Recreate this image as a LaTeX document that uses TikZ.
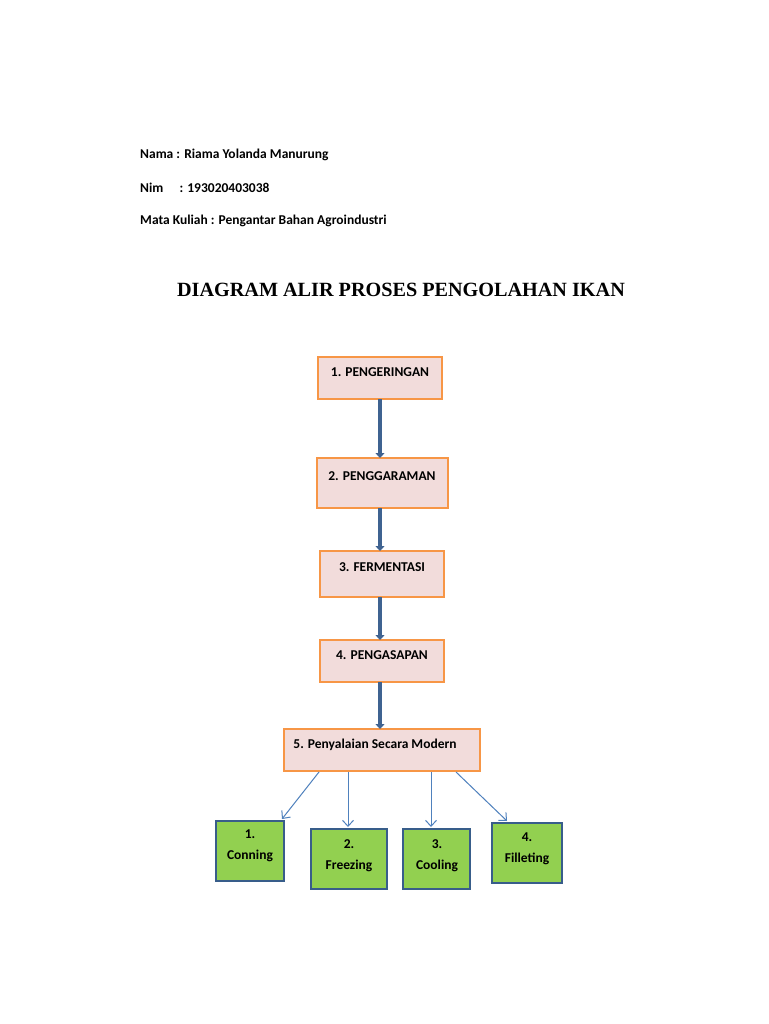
\documentclass[tikz,border=0pt]{standalone}
\usepackage{fontspec}
\setmainfont{Carlito}
\newfontfamily\titlefont{Liberation Serif}
\usetikzlibrary{arrows.meta}
\definecolor{pinkfill}{HTML}{F2DCDB}
\definecolor{orangeedge}{HTML}{F79646}
\definecolor{greenfill}{HTML}{92D050}
\definecolor{blueedge}{HTML}{385D8A}
\definecolor{thickarrow}{HTML}{3F6391}
\definecolor{thinarrow}{HTML}{4F81BD}
\begin{document}
\begin{tikzpicture}[x=1pt,y=-1pt,
  stepbox/.style={draw=orangeedge,line width=2pt,fill=pinkfill,inner sep=0pt},
  leafbox/.style={draw=blueedge,line width=2.5pt,fill=greenfill,inner sep=0pt},
  txt/.style={font=\fontsize{13.5}{16}\selectfont\bfseries,inner sep=0pt},
  leaftxt/.style={font=\fontsize{13.5}{21}\selectfont\bfseries,inner sep=0pt,align=center},
  hdr/.style={font=\fontsize{13.5}{16}\selectfont\bfseries,anchor=west,inner sep=0pt},
  bigarrow/.style={draw=thickarrow,line width=4pt,-{Triangle[length=5pt,width=9pt]}},
  smallarrow/.style={draw=thinarrow,line width=1pt,-{Straight Barb[length=6pt,width=11pt]}}]
\useasboundingbox (0,0) rectangle (768,1024);
\fill[white] (0,0) rectangle (768,1024);
% header
\node[hdr] (nama) at (140,155) {Nama : Riama Yolanda Manurung};
\node[hdr] (nim) at (140,188) {Nim\hspace{1.2em}: 193020403038};
\node[hdr] (mk) at (140,221) {Mata Kuliah : Pengantar Bahan Agroindustri};
\node[font=\titlefont\fontsize{20.2}{24}\selectfont\bfseries,inner sep=0pt] (title) at (401,290) {DIAGRAM ALIR PROSES PENGOLAHAN IKAN};
% process boxes
\draw[stepbox] (318,357) rectangle (442,399);
\coordinate (b1t) at (380,357); \coordinate (b1b) at (380,399);
\node[txt] (t1) at (380,372) {1. PENGERINGAN};
\draw[stepbox] (317,458) rectangle (448,508);
\coordinate (b2t) at (380,458); \coordinate (b2b) at (380,508);
\node[txt] (t2) at (382,476) {2. PENGGARAMAN};
\draw[stepbox] (320,551) rectangle (444,597);
\coordinate (b3t) at (380,551); \coordinate (b3b) at (380,597);
\node[txt] (t3) at (382,567) {3. FERMENTASI};
\draw[stepbox] (320,640) rectangle (444,682);
\coordinate (b4t) at (380,640); \coordinate (b4b) at (380,682);
\node[txt] (t4) at (382,655) {4. PENGASAPAN};
\draw[stepbox] (284,729) rectangle (480,771);
\coordinate (b5t) at (380,729);
\node[txt] (t5) at (375,745) {5. Penyalaian Secara Modern};
\draw[bigarrow] (b1b) -- (b2t);
\draw[bigarrow] (b2b) -- (b3t);
\draw[bigarrow] (b3b) -- (b4t);
\draw[bigarrow] (b4b) -- (b5t);
% leaf boxes
\draw[leafbox] (216,821) rectangle (284,881);
\node[leaftxt] (l1) at (250,846) {1.\\Conning};
\draw[leafbox] (311,829) rectangle (387,889);
\node[leaftxt] (l2) at (349,856) {2.\\Freezing};
\draw[leafbox] (403,829) rectangle (470,889);
\node[leaftxt] (l3) at (437,856) {3.\\Cooling};
\draw[leafbox] (492,823) rectangle (562,883);
\node[leaftxt] (l4) at (527,849) {4.\\Filleting};
% thin arrows
\coordinate (s1) at (319,772); \coordinate (e1) at (282,819);
\coordinate (s2) at (348,772); \coordinate (e2) at (348,827);
\coordinate (s3) at (431,772); \coordinate (e3) at (431,827);
\coordinate (s4) at (456,772); \coordinate (e4) at (507,821);
\draw[smallarrow] (s1) -- (e1);
\draw[smallarrow] (s2) -- (e2);
\draw[smallarrow] (s3) -- (e3);
\draw[smallarrow] (s4) -- (e4);
\end{tikzpicture}
\end{document}
